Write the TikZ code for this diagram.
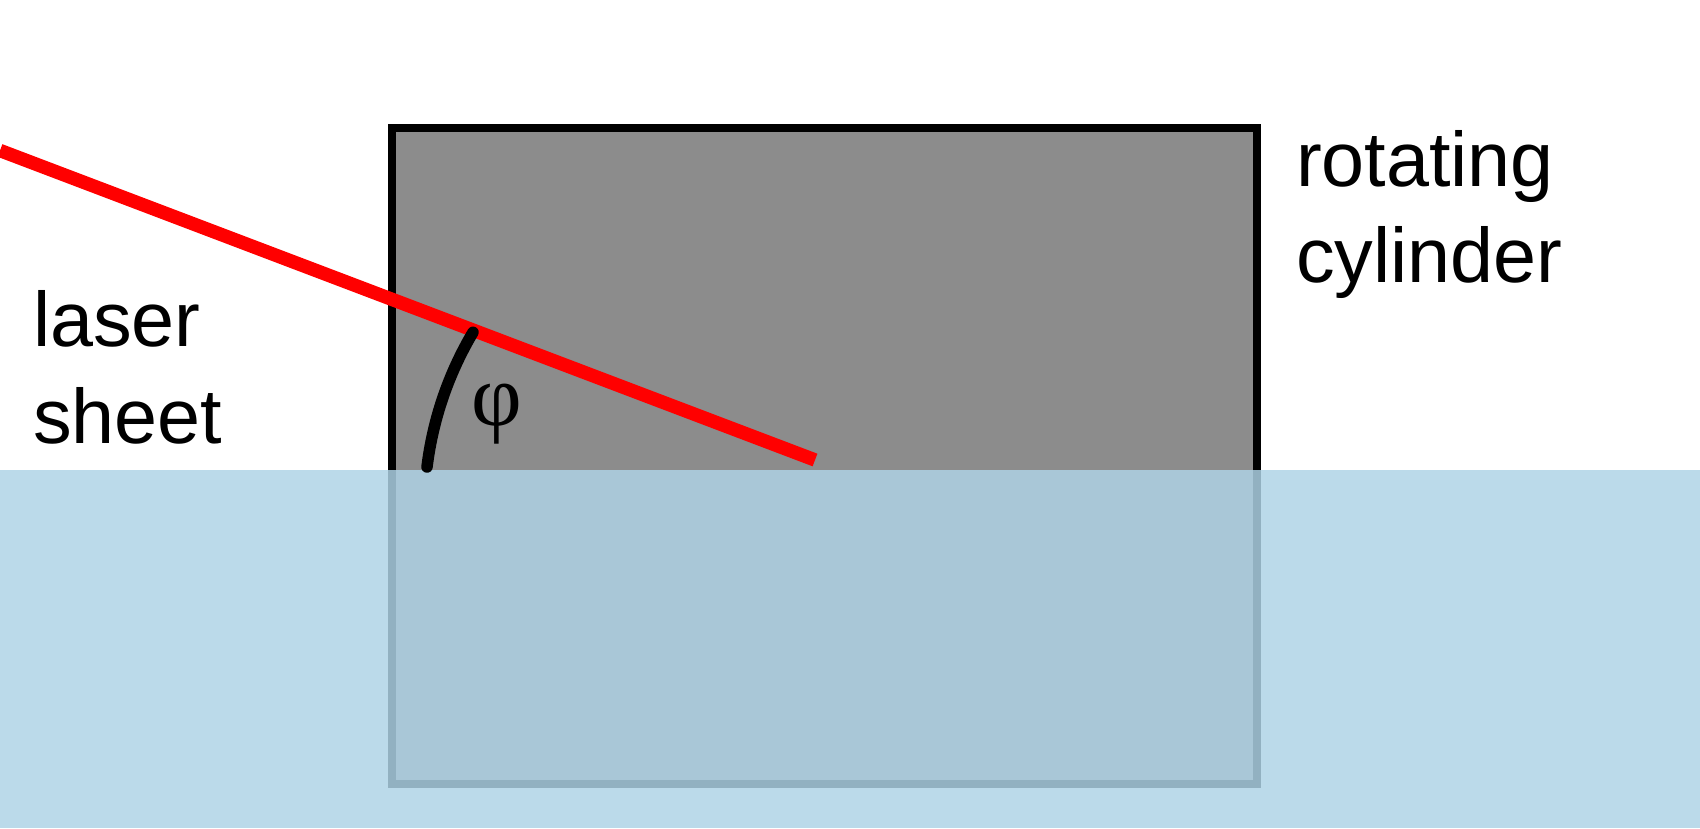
\documentclass[tikz,border=0pt]{standalone}
\usepackage{fontspec}
\setmainfont{Liberation Sans}
\newfontfamily\greekfont{Liberation Serif}
\usepackage{tikz}
\usetikzlibrary{positioning}

\definecolor{cylgray}{HTML}{8C8C8C}
\definecolor{water}{HTML}{AFD3E6}

\begin{document}
\begin{tikzpicture}[x=1cm, y=1cm, semithick]
      \tikzstyle{every node}=[inner sep=0pt, font=\fontsize{22}{27.5}\selectfont]
      \tikzstyle{label text}=[align=left, anchor=base west]
      \clip (0,0) rectangle (17,8.28);
      \fill[white] (0,0) rectangle (17,8.28);
      % cylinder and water
      \draw[fill=cylgray, line width=0.085cm] (3.92,0.44) rectangle (12.57,7.00);
      \fill[water, opacity=0.84] (0,0) rectangle (17,3.58);
      % laser sheet and angle
      \coordinate (L0) at (0,6.775);
      \coordinate (L1) at (8.15,3.68);
      \draw[red, line width=0.135cm] (L0) -- (L1);
      \coordinate (A0) at (4.27,3.61);
      \draw[line width=0.115cm, line cap=round] (A0) arc [start angle=173, end angle=149.3, radius=3.466] coordinate (A1);
      \node (phi) at (4.97,4.14) {\fontsize{25}{30}\greekfont φ};
      \node[label text] (laser) at (0.32,3.85) {laser\\sheet};
      \node[label text] (cyl) at (12.95,5.45) {rotating\\cylinder};
    \end{tikzpicture}
\end{document}
